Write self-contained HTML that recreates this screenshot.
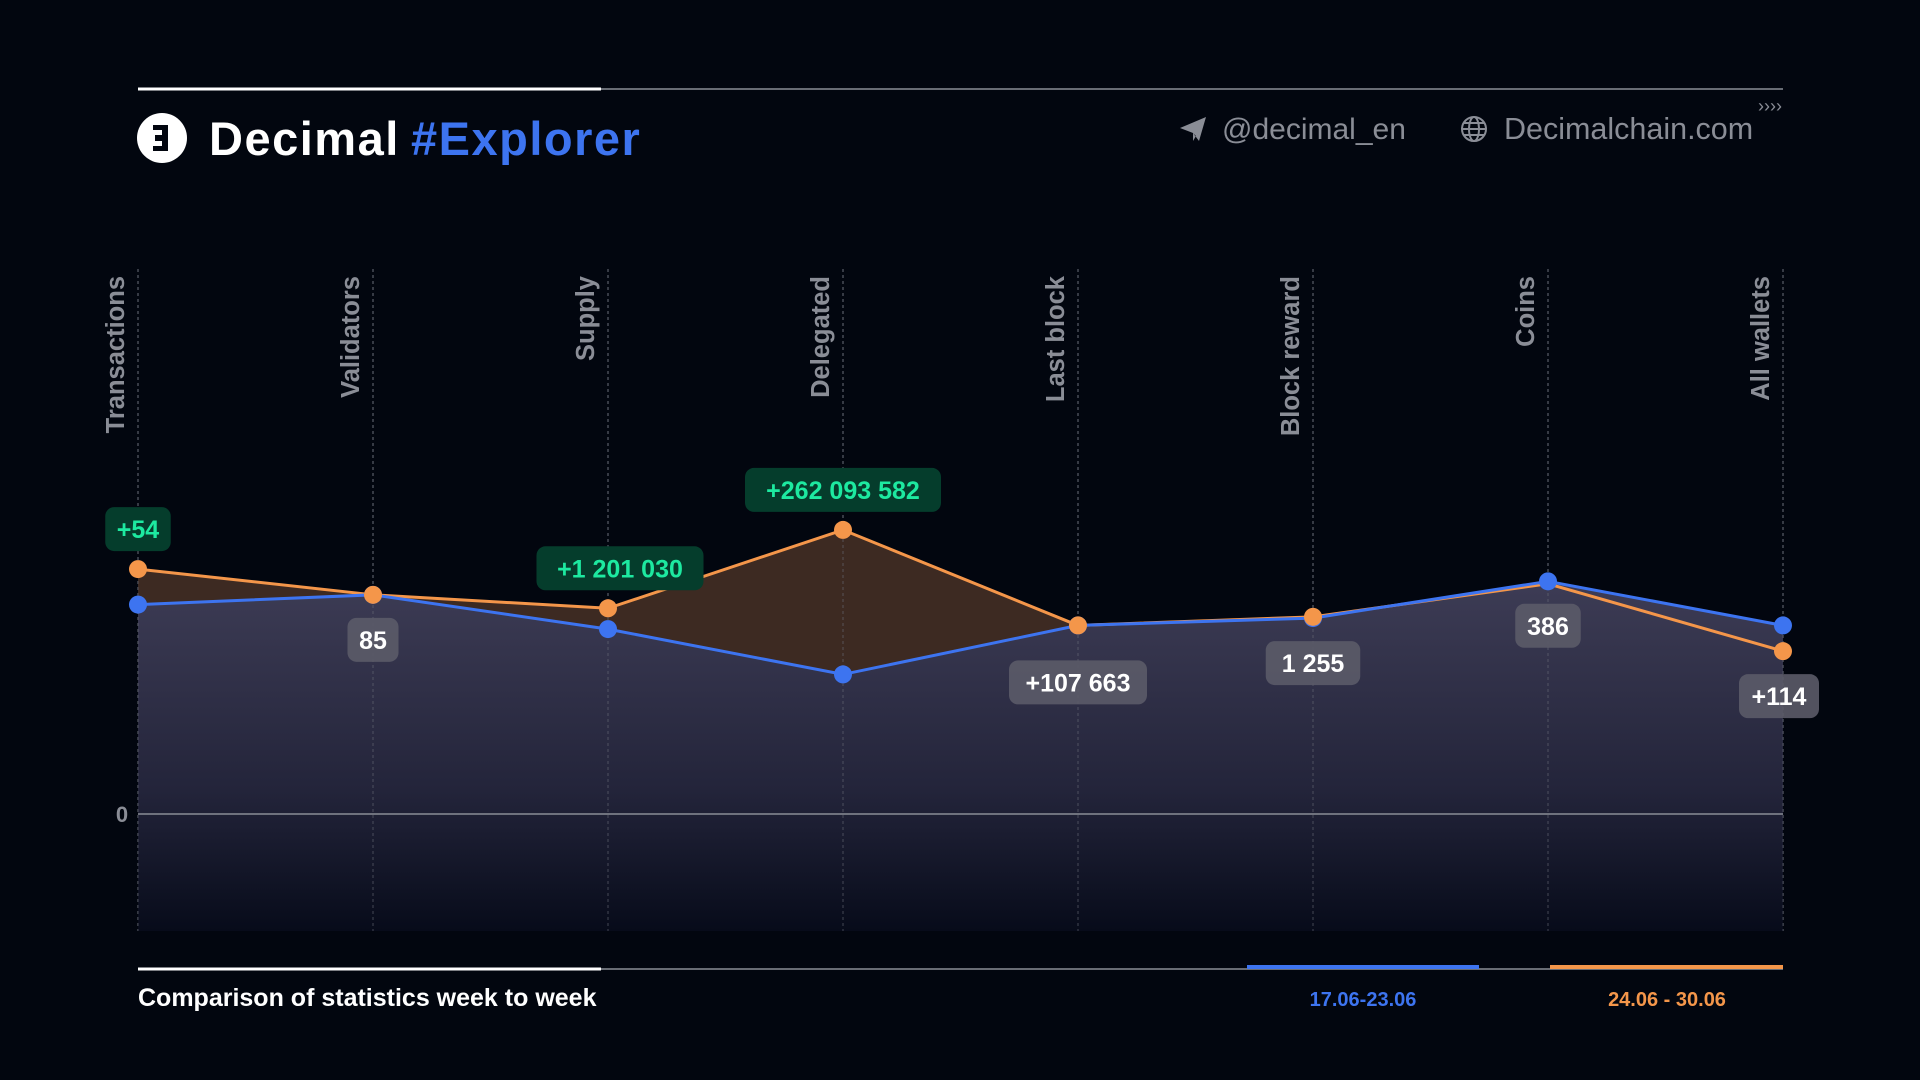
<!DOCTYPE html>
<html><head><meta charset="utf-8"><style>
html,body{margin:0;padding:0;background:#02060f;}
svg{display:block;font-family:"Liberation Sans",sans-serif;}
</style></head><body>
<svg id="chart" width="1920" height="1080" viewBox="0 0 1920 1080" xmlns="http://www.w3.org/2000/svg">
<defs>
<linearGradient id="areaGrad" x1="0" y1="0" x2="0" y2="1">
<stop offset="0" stop-color="#3d3c55"/>
<stop offset="0.6" stop-color="#23243a"/>
<stop offset="1" stop-color="#070b1a"/>
</linearGradient>
</defs>
<rect width="1920" height="1080" fill="#02060f"/>
<line x1="138" y1="89" x2="1783" y2="89" stroke="#8a8d96" stroke-width="1.5"/>
<line x1="138" y1="89" x2="601" y2="89" stroke="#ffffff" stroke-width="3"/>
<g>
<circle cx="162" cy="138" r="25" fill="#ffffff"/>
<rect x="153" y="125" width="15" height="26" fill="#02060f"/>
<rect x="152" y="130" width="10" height="16" fill="#ffffff"/>
<rect x="155" y="135" width="7" height="6" fill="#02060f"/>
</g>
<text x="209" y="155" font-size="47" font-weight="bold" letter-spacing="1.5" fill="#ffffff">Decimal <tspan x="411" fill="#3d74f0">#Explorer</tspan></text>
<g><path d="M1180 128 L1206 117 L1199 141 L1193 133 Z M1193 133 L1193 141 L1196 136" fill="#8a8d96"/></g>
<text x="1222" y="139" font-size="30" fill="#8a8d96">@decimal_en</text>
<g fill="none" stroke="#8a8d96" stroke-width="2">
<circle cx="1474" cy="129" r="12"/><ellipse cx="1474" cy="129" rx="5" ry="12"/><line x1="1462" y1="129" x2="1486" y2="129"/>
<line x1="1464" y1="123" x2="1484" y2="123"/><line x1="1464" y1="135" x2="1484" y2="135"/>
</g>
<text x="1504" y="139" font-size="30.5" fill="#8a8d96">Decimalchain.com</text>
<text x="1758" y="112" font-size="18" fill="#8a8d96">››››</text>
<g id="plot"></g>
<line x1="138" y1="969" x2="1783" y2="969" stroke="#8a8d96" stroke-width="1.5"/>
<line x1="138" y1="969" x2="601" y2="969" stroke="#ffffff" stroke-width="3"/>
<text x="138" y="1006" font-size="25" font-weight="bold" fill="#ffffff">Comparison of statistics week to week</text>
<line x1="1247" y1="967" x2="1479" y2="967" stroke="#3d74f0" stroke-width="4"/>
<text x="1363" y="1006" font-size="20" font-weight="bold" fill="#3d74f0" text-anchor="middle">17.06-23.06</text>
<line x1="1550" y1="967" x2="1783" y2="967" stroke="#f4964a" stroke-width="4"/>
<text x="1667" y="1006" font-size="20" font-weight="bold" fill="#f4964a" text-anchor="middle">24.06 - 30.06</text>
</svg>
<script>
const categories = ["Transactions","Validators","Supply","Delegated","Last block","Block reward","Coins","All wallets"];
const week1Values = [171,179,151,114,154,160,190,154];
const week2Values = [200,179,168,232,154,161,188,133];
const changeLabels = ["+54","85","+1 201 030","+262 093 582","+107 663","1 255","386","+114"];
const changePositive = [true,false,true,true,false,false,false,false];

const NS = "http://www.w3.org/2000/svg";
const plot = document.getElementById('plot');
const x0 = 138, step = 235, zeroY = 814, pxPerUnit = 1.2245, bottomY = 931;
function xAt(i){ return x0 + i*step; }
function yAt(v){ return zeroY - v*pxPerUnit; }
function mk(tag, attrs){ const e=document.createElementNS(NS,tag); for(const k in attrs) e.setAttribute(k,attrs[k]); plot.appendChild(e); return e; }

categories.forEach((c,i)=>{
  const l = mk('line',{x1:xAt(i),x2:xAt(i),y1:269,y2:bottomY,stroke:'#6a6d78','stroke-width':1,'stroke-dasharray':'3 3'});
  
  
});
function areaPath(vals){ let d=`M${xAt(0)} ${bottomY}`; vals.forEach((v,i)=>d+=` L${xAt(i)} ${yAt(v)}`); d+=` L${xAt(vals.length-1)} ${bottomY} Z`; return d; }
const a2 = mk('path',{d:areaPath(week2Values),fill:'#3d2a22'});


const a1 = mk('path',{d:areaPath(week1Values),fill:'url(#areaGrad)'});


categories.forEach((c,i)=>{
  const l = mk('line',{x1:xAt(i),x2:xAt(i),y1:269,y2:bottomY,stroke:'#6a6d78','stroke-width':1,'stroke-dasharray':'3 3',opacity:0.6});
  
  
});
const z = mk('line',{x1:138,x2:1783,y1:zeroY,y2:zeroY,stroke:'#8a8d96','stroke-width':1.5});


const zt = mk('text',{x:122,y:zeroY+8,'font-size':22,'font-weight':'bold',fill:'#8a8d96','text-anchor':'middle'});
zt.textContent='0';


function linePts(vals){ return vals.map((v,i)=>`${xAt(i)},${yAt(v)}`).join(' '); }
const l2 = mk('polyline',{points:linePts(week2Values),fill:'none',stroke:'#f4964a','stroke-width':3});


const l1 = mk('polyline',{points:linePts(week1Values),fill:'none',stroke:'#3d74f0','stroke-width':3});


week1Values.forEach((v,i)=>{
  const c = mk('circle',{cx:xAt(i),cy:yAt(v),r:9,fill:'#3d74f0'});
  
  
});
week2Values.forEach((v,i)=>{
  if (i===6) return;
  const c = mk('circle',{cx:xAt(i),cy:yAt(v),r:9,fill:'#f4964a'});
  
  
});
categories.forEach((c,i)=>{
  const t = mk('text',{x:0,y:0,'font-size':25.5,'font-weight':'bold',fill:'#8a8d96','text-anchor':'end',transform:`translate(${xAt(i)-14},276) rotate(-90)`});
  t.textContent=c;
  
  
});
changeLabels.forEach((lab,i)=>{
  const pos = changePositive[i];
  const top = Math.max(week1Values[i],week2Values[i]);
  const bot = Math.min(week1Values[i],week2Values[i]);
  let cy = pos ? yAt(top)-40 : yAt(bot)+45;
  let cx = xAt(i);
  if (i===2) cx += 12;
  if (i===4) cy += 12;
  if (i===6) cy -= 3;
  if (i===7) cx -= 4;
  const w = lab.length*14.5 + 22;
  const r = mk('rect',{x:cx-w/2,y:cy-22,width:w,height:44,rx:9,fill:pos?'#053d2c':'#5b5b68',opacity:pos?1:0.9});
  
  
  const t = mk('text',{x:cx,y:cy+9,'font-size':25,'font-weight':'bold',fill:pos?'#1de9a0':'#ffffff','text-anchor':'middle'});
  t.textContent=lab;
  
  
});
</script>
</body></html>
